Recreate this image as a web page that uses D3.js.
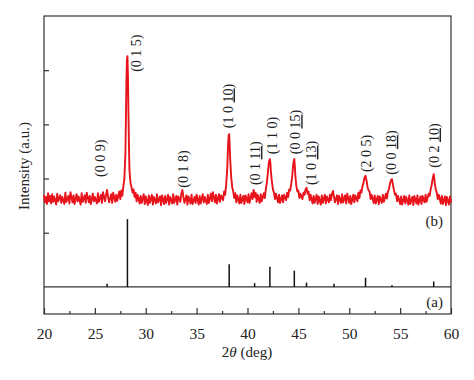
<!DOCTYPE html>
<html><head><meta charset="utf-8">
<script src="https://cdn.jsdelivr.net/npm/d3@7"></script>
<style>
html,body{margin:0;padding:0;background:#fff;}
</style></head>
<body><svg id="c" width="474" height="380"></svg>
<script>
// (b) measured pattern: [2theta, intensity a.u.]
const pattern = [
[20.0,1.70],[20.1,1.56],[20.2,1.66],[20.3,1.53],[20.4,1.73],[20.5,1.58],[20.6,1.68],[20.7,1.54],[20.8,1.71],[20.9,1.57],
[21.0,1.67],[21.2,1.52],[21.3,1.72],[21.4,1.58],[21.6,1.69],[21.7,1.55],[21.8,1.66],[22.0,1.53],[22.1,1.74],[22.2,1.57],
[22.4,1.68],[22.5,1.54],[22.6,1.75],[22.8,1.56],[22.9,1.69],[23.0,1.53],[23.2,1.71],[23.3,1.58],[23.4,1.67],[23.6,1.52],
[23.7,1.73],[23.8,1.57],[24.0,1.69],[24.1,1.55],[24.2,1.74],[24.4,1.56],[24.5,1.68],[24.6,1.53],[24.8,1.72],[24.9,1.58],
[25.0,1.66],[25.2,1.54],[25.3,1.73],[25.4,1.57],[25.6,1.70],[25.7,1.55],[25.8,1.75],[26.0,1.58],[26.1,1.70],[26.2,1.79],
[26.3,1.66],[26.4,1.56],[26.6,1.71],[26.7,1.55],[26.8,1.74],[27.0,1.57],[27.1,1.70],[27.2,1.59],[27.4,1.76],[27.5,1.62],
[27.6,1.78],[27.7,1.68],[27.8,1.86],[27.9,2.00],[28.0,2.45],[28.05,3.10],[28.1,3.80],[28.15,4.20],[28.2,4.26],[28.25,3.90],
[28.3,3.20],[28.35,2.60],[28.4,2.15],[28.5,1.92],[28.6,1.84],[28.7,1.74],[28.8,1.80],[28.9,1.66],[29.0,1.74],[29.1,1.58],
[29.2,1.70],[29.4,1.54],[29.5,1.68],[29.6,1.55],[29.8,1.71],[29.9,1.53],[30.0,1.67],[30.2,1.51],[30.3,1.69],[30.4,1.55],
[30.6,1.70],[30.7,1.52],[30.8,1.66],[31.0,1.54],[31.1,1.71],[31.2,1.56],[31.4,1.67],[31.5,1.51],[31.6,1.69],[31.8,1.53],
[31.9,1.68],[32.0,1.55],[32.2,1.70],[32.3,1.52],[32.4,1.66],[32.6,1.54],[32.7,1.71],[32.8,1.55],[33.0,1.68],[33.1,1.52],
[33.2,1.67],[33.4,1.57],[33.5,1.72],[33.6,1.79],[33.7,1.66],[33.8,1.55],[34.0,1.69],[34.1,1.52],[34.2,1.67],[34.4,1.54],
[34.5,1.70],[34.6,1.53],[34.8,1.66],[34.9,1.55],[35.0,1.70],[35.2,1.52],[35.3,1.68],[35.4,1.54],[35.6,1.71],[35.7,1.56],
[35.8,1.66],[36.0,1.53],[36.1,1.70],[36.2,1.55],[36.4,1.72],[36.5,1.58],[36.6,1.75],[36.8,1.56],[36.9,1.70],[37.0,1.54],
[37.2,1.71],[37.3,1.57],[37.4,1.69],[37.6,1.60],[37.7,1.76],[37.8,1.70],[37.9,1.88],[38.0,2.15],[38.05,2.40],[38.1,2.65],
[38.15,2.80],[38.2,2.82],[38.25,2.60],[38.3,2.35],[38.4,2.02],[38.5,1.84],[38.6,1.76],[38.7,1.64],[38.8,1.73],[38.9,1.56],
[39.0,1.69],[39.2,1.54],[39.3,1.70],[39.4,1.55],[39.6,1.68],[39.7,1.53],[39.8,1.69],[40.0,1.56],[40.1,1.71],[40.2,1.55],
[40.4,1.73],[40.5,1.62],[40.6,1.79],[40.7,1.66],[40.8,1.74],[40.9,1.57],[41.0,1.70],[41.2,1.55],[41.3,1.71],[41.4,1.58],
[41.6,1.73],[41.7,1.64],[41.8,1.80],[41.9,1.92],[42.0,2.10],[42.1,2.30],[42.2,2.36],[42.25,2.28],[42.3,2.12],[42.4,1.94],
[42.5,1.80],[42.6,1.74],[42.7,1.62],[42.8,1.72],[43.0,1.56],[43.1,1.70],[43.2,1.55],[43.4,1.69],[43.5,1.56],[43.6,1.70],
[43.8,1.60],[43.9,1.74],[44.0,1.66],[44.1,1.80],[44.2,1.78],[44.3,1.90],[44.4,2.05],[44.5,2.28],[44.6,2.36],[44.65,2.24],
[44.7,2.06],[44.8,1.86],[44.9,1.76],[45.0,1.78],[45.1,1.64],[45.2,1.72],[45.4,1.62],[45.5,1.74],[45.6,1.70],[45.7,1.80],
[45.8,1.83],[45.9,1.72],[46.0,1.76],[46.1,1.60],[46.2,1.70],[46.4,1.54],[46.5,1.68],[46.6,1.55],[46.8,1.70],[46.9,1.53],
[47.0,1.67],[47.2,1.52],[47.3,1.69],[47.4,1.55],[47.6,1.70],[47.7,1.54],[47.8,1.67],[48.0,1.56],[48.1,1.70],[48.2,1.60],
[48.3,1.72],[48.4,1.77],[48.5,1.66],[48.6,1.56],[48.8,1.69],[48.9,1.53],[49.0,1.68],[49.2,1.55],[49.3,1.71],[49.4,1.56],
[49.6,1.69],[49.7,1.54],[49.8,1.72],[50.0,1.55],[50.1,1.68],[50.2,1.53],[50.4,1.70],[50.5,1.56],[50.6,1.69],[50.8,1.58],
[50.9,1.74],[51.0,1.64],[51.1,1.78],[51.2,1.74],[51.3,1.86],[51.4,1.92],[51.5,2.02],[51.6,2.05],[51.7,1.96],[51.8,1.84],
[51.9,1.78],[52.0,1.76],[52.1,1.62],[52.2,1.70],[52.4,1.55],[52.5,1.69],[52.6,1.54],[52.8,1.68],[52.9,1.53],[53.0,1.67],
[53.2,1.55],[53.3,1.70],[53.4,1.57],[53.6,1.72],[53.7,1.63],[53.8,1.76],[53.9,1.80],[54.0,1.90],[54.1,1.97],[54.2,1.99],
[54.3,1.88],[54.4,1.78],[54.5,1.70],[54.6,1.72],[54.7,1.58],[54.8,1.68],[55.0,1.53],[55.1,1.67],[55.2,1.52],[55.4,1.68],
[55.5,1.54],[55.6,1.66],[55.8,1.52],[55.9,1.69],[56.0,1.53],[56.2,1.66],[56.3,1.51],[56.4,1.68],[56.6,1.54],[56.7,1.69],
[56.8,1.52],[57.0,1.67],[57.1,1.53],[57.2,1.68],[57.4,1.56],[57.5,1.70],[57.6,1.57],[57.8,1.72],[57.9,1.68],[58.0,1.80],
[58.1,1.88],[58.2,2.00],[58.3,2.08],[58.35,2.02],[58.4,1.92],[58.5,1.80],[58.6,1.74],[58.7,1.62],[58.8,1.70],[59.0,1.54],
[59.1,1.68],[59.2,1.53],[59.4,1.67],[59.5,1.51],[59.6,1.66],[59.8,1.52],[59.9,1.67],[60.0,1.55]
];
// (a) reference stick pattern
const stickPos = [26.2, 28.2, 38.2, 40.7, 42.2, 44.6, 45.8, 48.5, 51.6, 54.2, 58.3];
const stickInt = [0.06, 1.25, 0.42, 0.07, 0.37, 0.30, 0.08, 0.06, 0.17, 0.03, 0.10];
// peak labels: text (underscores mark underlined index), label 2theta, label base intensity
const peakLabels = ["(0 0 9)","(0 1 5)","(0 1 8)","(1 0 _10_)","(0 1 _11_)","(1 1 0)","(0 0 _15_)","(1 0 _13_)","(2 0 5)","(0 0 _18_)","(0 2 _10_)"];
const labelPos = [25.5, 29.1, 33.65, 38.05, 40.75, 42.4, 44.7, 46.25, 51.7, 54.1, 58.3];
const labelInt = [2.03, 3.97, 1.83, 2.93, 1.88, 2.45, 2.45, 1.88, 2.12, 2.07, 2.20];
const xTicks = [20,25,30,35,40,45,50,55,60];
const xMinor = [22.5,27.5,32.5,37.5,42.5,47.5,52.5,57.5];
const yTicks = [1,2,3,4];

const FONT = "'Liberation Serif','Times New Roman','DejaVu Serif',serif";
const svg = d3.select("#c");
const L=44,R=451,T=16,B=314;
const x = d3.scaleLinear().domain([20,60]).range([L,R]);
const y = d3.scaleLinear().domain([-0.5,5]).range([B,T]);
const axisCol="#333";

// frame
svg.append("rect").attr("x",L).attr("y",T).attr("width",R-L).attr("height",B-T)
  .attr("fill","none").attr("stroke",axisCol).attr("stroke-width",1.2);
// separator / stick baseline
svg.append("line").attr("x1",L).attr("x2",R).attr("y1",y(0)).attr("y2",y(0))
  .attr("stroke",axisCol).attr("stroke-width",1.2);

// x axis (ticks inside)
const xa = svg.append("g").attr("transform",`translate(0,${B})`)
  .call(d3.axisBottom(x).tickValues(xTicks).tickSize(-6).tickPadding(14).tickFormat(d3.format("d")));
xa.attr("font-family",null);
xa.select(".domain").remove();
xa.selectAll("line").attr("stroke",axisCol).attr("stroke-width",1.2);
xa.selectAll("text").style("font-family",FONT).style("font-size","15.5px").attr("fill","#222");
const xm = svg.append("g").attr("transform",`translate(0,${B})`)
  .call(d3.axisBottom(x).tickValues(xMinor).tickSize(-3).tickFormat(""));
xm.select(".domain").remove();
xm.selectAll("line").attr("stroke",axisCol).attr("stroke-width",1.2);

// y axis ticks (inside, no labels)
const ya = svg.append("g").attr("transform",`translate(${L},0)`)
  .call(d3.axisLeft(y).tickValues(yTicks).tickSize(-5).tickFormat(""));
ya.select(".domain").remove();
ya.selectAll("line").attr("stroke",axisCol).attr("stroke-width",1.2);

// sticks
svg.append("g").selectAll("line").data(stickPos).join("line")
  .attr("x1",d=>x(d)).attr("x2",d=>x(d))
  .attr("y1",y(0)).attr("y2",(d,i)=>y(stickInt[i]))
  .attr("stroke","#111").attr("stroke-width",1.5);

// pattern line
svg.append("path").datum(pattern)
  .attr("d",d3.line().x(d=>x(d[0])).y(d=>y(d[1])))
  .attr("fill","none").attr("stroke","#e8141c").attr("stroke-width",1.9).attr("stroke-linejoin","round");

// peak labels
peakLabels.forEach((lab,i)=>{
  const t = svg.append("text")
    .attr("transform",`translate(${x(labelPos[i])},${y(labelInt[i])}) rotate(-90)`)
    .attr("dy","0.35em").style("font-family",FONT).style("font-size","14px")
    .attr("fill","#222").attr("text-anchor","start");
  lab.split("_").forEach((part,k)=>{
    if(!part) return;
    const s = t.append("tspan").text(part);
    if(k%2===1) s.style("text-decoration","underline");
  });
});

// series labels
svg.append("text").attr("x",443).attr("y",307).attr("text-anchor","end").style("font-family",FONT).style("font-size","15px").attr("fill","#222").text("(a)");
svg.append("text").attr("x",443).attr("y",226).attr("text-anchor","end").style("font-family",FONT).style("font-size","15px").attr("fill","#222").text("(b)");

// axis titles
const xt = svg.append("text").attr("x",247).attr("y",357).attr("text-anchor","middle")
  .style("font-family",FONT).style("font-size","15px").attr("fill","#222");
xt.append("tspan").text("2");
xt.append("tspan").attr("font-style","italic").text("θ");
xt.append("tspan").text(" (deg)");
svg.append("text").attr("transform","translate(29,166) rotate(-90)").attr("text-anchor","middle")
  .style("font-family",FONT).style("font-size","15px").attr("fill","#222").text("Intensity (a.u.)");
</script></body></html>
